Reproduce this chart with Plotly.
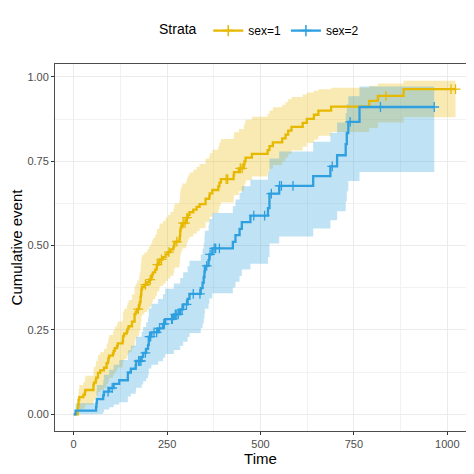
import numpy as np
import plotly.graph_objects as go

# sex=1 : step times, cumulative event and 95% band
time_1 = [0, 11, 12, 13, 15, 26, 30, 31, 53, 54, 59, 60, 65, 71, 81, 88, 92, 93, 95, 105,
          107, 110, 116, 118, 131, 132, 135, 142, 144, 147, 156, 163, 166, 170, 175, 176, 177, 179, 180, 181,
          183, 189, 197, 202, 207, 210, 212, 218, 222, 223, 229, 230, 239, 246, 252, 259, 267, 269, 270, 283,
          284, 285, 286, 288, 291, 301, 303, 306, 310, 320, 329, 337, 353, 363, 364, 371, 387, 390, 394, 428,
          429, 442, 455, 457, 460, 477, 519, 524, 533, 558, 567, 574, 583, 613, 624, 643, 655, 689, 791, 814,
          883, 1022]
event_1 = [0, .022, .029, .043, .051, .058, .065, .072, .087, .094, .101, .109, .123, .130, .138, .152, .159, .167, .174, .181,
           .188, .196, .203, .210, .217, .232, .239, .246, .254, .261, .275, .297, .304, .312, .319, .326, .333, .348, .355, .370,
           .377, .384, .392, .399, .406, .414, .421, .429, .436, .444, .451, .459, .466, .474, .481, .489, .497, .504, .512, .520,
           .528, .543, .551, .559, .567, .575, .583, .591, .599, .607, .615, .623, .639, .647, .655, .665, .676, .687, .697, .708,
           .718, .729, .740, .750, .761, .772, .783, .795, .806, .818, .829, .841, .852, .864, .876, .888, .900, .912, .929, .944,
           .964, .964]
lower_1 = [0, 0, .001, .008, .014, .018, .023, .028, .039, .044, .049, .056, .066, .072, .079, .090, .096, .102, .108, .114,
           .120, .127, .133, .139, .145, .158, .164, .171, .178, .184, .198, .219, .226, .233, .240, .247, .253, .267, .275, .289,
           .296, .303, .311, .318, .325, .333, .341, .349, .356, .364, .372, .380, .387, .395, .403, .411, .419, .427, .435, .444,
           .452, .467, .475, .484, .492, .501, .509, .518, .526, .535, .543, .552, .569, .578, .586, .596, .607, .618, .628, .639,
           .650, .661, .672, .682, .694, .705, .716, .728, .739, .750, .761, .772, .782, .793, .804, .815, .826, .837, .849, .865,
           .881, .881]
upper_1 = [0, .046, .057, .076, .087, .096, .105, .114, .133, .141, .150, .159, .176, .184, .194, .210, .218, .227, .235, .243,
           .251, .260, .267, .275, .283, .305, .313, .322, .331, .339, .355, .379, .388, .397, .405, .414, .422, .439, .447, .464,
           .472, .480, .489, .498, .506, .515, .523, .532, .540, .549, .557, .566, .574, .583, .591, .600, .609, .617, .625, .634,
           .643, .658, .667, .675, .684, .692, .700, .709, .717, .725, .734, .742, .758, .766, .774, .784, .795, .806, .816, .826,
           .836, .846, .855, .864, .873, .882, .891, .901, .910, .918, .926, .934, .941, .948, .954, .959, .964, .968, .974, .981,
           .989, .989]
censor_1 = [173, 192, 205, 224, 235, 255, 276, 293, 298, 303, 408, 412, 446, 451, 836, 1010, 1022]

# sex=2
time_2 = [0, 5, 60, 61, 62, 79, 81, 95, 107, 122, 145, 153, 166, 167, 182, 186, 194, 199, 201, 208,
          226, 239, 245, 268, 285, 293, 305, 310, 340, 345, 348, 350, 351, 361, 363, 371, 426, 433, 444, 450,
          473, 520, 524, 550, 641, 687, 705, 728, 731, 735, 765, 965]
event_2 = [0, .011, .022, .034, .045, .056, .067, .078, .090, .101, .124, .135, .146, .158, .170, .182, .194, .206, .230, .243,
           .255, .268, .282, .296, .311, .326, .342, .357, .374, .390, .407, .423, .440, .457, .474, .492, .511, .531, .550, .570,
           .589, .611, .654, .677, .706, .735, .768, .801, .834, .867, .911, .911]
lower_2 = [0, 0, 0, 0, .001, .007, .014, .021, .029, .036, .053, .061, .069, .079, .088, .098, .107, .117, .136, .147,
           .157, .168, .179, .191, .203, .215, .229, .241, .255, .269, .284, .298, .313, .328, .343, .359, .376, .393, .410, .429,
           .446, .466, .506, .527, .551, .575, .602, .631, .661, .692, .718, .718]
upper_2 = [0, .033, .052, .070, .087, .102, .117, .132, .147, .161, .190, .203, .216, .230, .245, .259, .273, .286, .314, .328,
           .342, .356, .372, .388, .404, .421, .439, .455, .474, .491, .509, .526, .544, .561, .579, .597, .617, .637, .657, .676,
           .695, .717, .758, .779, .808, .835, .865, .893, .919, .943, .972, .972]
censor_2 = [92, 103, 174, 177, 180, 192, 203, 206, 215, 222, 230, 241, 243, 262, 264, 272, 276, 280, 290, 302,
            320, 338, 356, 365, 376, 380, 390, 482, 511, 529, 551, 556, 587, 692, 740, 821, 965]

strata = ["sex=1", "sex=2"]
colors = ["#E7B800", "#2E9FDF"]
fills = ["rgba(231,184,0,0.3)", "rgba(46,159,223,0.3)"]

groups = [(time_1, event_1, lower_1, upper_1, censor_1),
          (time_2, event_2, lower_2, upper_2, censor_2)]
for g in groups:
    assert len(g[0]) == len(g[1]) == len(g[2]) == len(g[3])

fig = go.Figure()

# confidence bands first
for (t, ev, lo, up, cs), col, fc in zip(groups, colors, fills):
    fig.add_trace(go.Scatter(x=t, y=lo, mode="lines", line=dict(width=0, shape="hv"),
                             showlegend=False, hoverinfo="skip"))
    fig.add_trace(go.Scatter(x=t, y=up, mode="lines", line=dict(width=0, shape="hv"),
                             fill="tonexty", fillcolor=fc, showlegend=False, hoverinfo="skip"))

# curves + censor marks
for (t, ev, lo, up, cs), col, name in zip(groups, colors, strata):
    fig.add_trace(go.Scatter(x=t, y=ev, mode="lines", line=dict(color=col, width=2.3, shape="hv"),
                             name=name, legendgroup=name, showlegend=False))
    idx = np.searchsorted(t, cs, side="right") - 1
    cy = np.array(ev)[idx]
    fig.add_trace(go.Scatter(x=cs, y=cy, mode="markers",
                             marker=dict(symbol="cross-thin", size=7, line=dict(color=col, width=1.3)),
                             showlegend=False, legendgroup=name))
    # legend entry
    fig.add_trace(go.Scatter(x=[None], y=[None], mode="lines+markers", name=name, legendgroup=name,
                             line=dict(color=col, width=2.3),
                             marker=dict(symbol="cross-thin", size=8, line=dict(color=col, width=1.5))))

axis_common = dict(showline=True, mirror=True, linecolor="#4D4D4D", linewidth=1,
                   ticks="outside", ticklen=3, tickcolor="#333333", tickwidth=1,
                   tickfont=dict(size=11, color="#4D4D4D"), automargin=False,
                   showgrid=True, gridcolor="#EBEBEB", gridwidth=1, zeroline=False)

# page body has an 8px margin, so the figure is drawn 466 wide
fig.update_layout(
    width=466, height=466,
    paper_bgcolor="white", plot_bgcolor="white",
    font=dict(family="Liberation Sans, Arial, sans-serif", color="black"),
    margin=dict(l=47, r=8, t=51, b=43),
    xaxis=dict(range=[-50, 1050], tickvals=[0, 250, 500, 750, 1000],
               minor=dict(tickvals=[125, 375, 625, 875], showgrid=True, gridcolor="#F2F2F2", gridwidth=0.6, ticks=""),
               title=dict(text="Time", font=dict(size=15), standoff=4), **axis_common),
    yaxis=dict(range=[-0.0495, 1.0385], tickvals=[0, 0.25, 0.5, 0.75, 1], tickformat=".2f",
               minor=dict(tickvals=[0.125, 0.375, 0.625, 0.875], showgrid=True, gridcolor="#F2F2F2", gridwidth=0.6, ticks=""),
               title=dict(text="Cumulative event", font=dict(size=15), standoff=5), **axis_common),
    legend=dict(orientation="h", x=0.5, xanchor="center", y=1.091, yanchor="middle",
                title=dict(text="Strata ", font=dict(size=14)), font=dict(size=12),
                itemwidth=30, bgcolor="rgba(0,0,0,0)"),
)

fig.write_html("out.html")
